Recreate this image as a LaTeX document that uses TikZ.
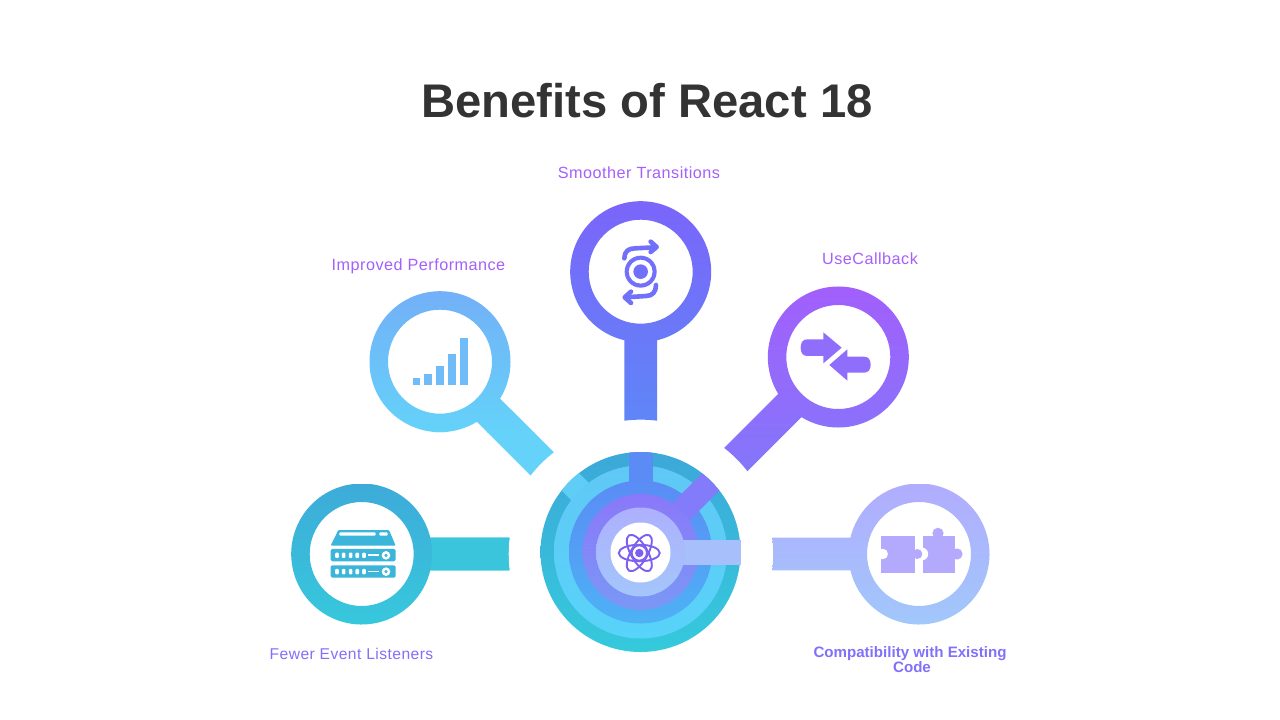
\documentclass[tikz,border=0pt]{standalone}
\usepackage{fontspec}
\setmainfont{Liberation Sans}
\newfontfamily\lblfont[LetterSpace=3]{Liberation Sans}
\definecolor{titlec}{HTML}{333333}
\definecolor{lblA}{HTML}{A560FB}
\definecolor{lblB}{HTML}{8270FB}
\definecolor{syncc}{HTML}{7070FA}
\definecolor{swapc}{HTML}{8F6EFB}
\definecolor{barsc}{HTML}{6FBCF8}
\definecolor{servc}{HTML}{3CB5DA}
\definecolor{puzc}{HTML}{B3A9FD}
\definecolor{atomc}{HTML}{7F5FF0}
\definecolor{lefbar}{HTML}{3AC5DC}
\tikzset{
  lbl/.style={inner sep=0pt,anchor=base,font=\lblfont\fontsize{16.2}{18}\selectfont},
  syncline/.style={draw=syncc,line width=4.6pt,line cap=round,line join=round},
}
% cx cy angle barend ytop ybot topcolor botcolor (HTML)
\newcommand{\lens}[8]{%
  \definecolor{lenstop}{HTML}{#7}\definecolor{lensbot}{HTML}{#8}%
  \begin{scope}[even odd rule]
    \clip[shift={(#1,#2)},rotate=#3]
      (13.45:70.5pt) arc[start angle=13.45,end angle=346.55,radius=70.5pt]
      -- (#4pt,-16.4pt) arc[start angle=187.2,end angle=172.8,radius=131pt]
      -- cycle (0pt,0pt) circle[radius=52pt];
    \shade[top color=lenstop,bottom color=lensbot] (200,#5) rectangle (1100,#6);
    \fill[lensbot] (200,#6) rectangle (1100,700);
  \end{scope}}
% disc of the hub: radius, top colour, bottom colour
\newcommand{\hubdisc}[3]{%
  \definecolor{disctop}{HTML}{#2}\definecolor{discbot}{HTML}{#3}%
  \shade[top color=disctop,bottom color=discbot] (640.5,552) circle[radius=#1pt];}
\begin{document}
\begin{tikzpicture}[x=1pt,y=-1pt]
\useasboundingbox (0,0) rectangle (1280,720);
\fill[white] (0,0) rectangle (1280,720);

\node[inner sep=0pt,anchor=base,text=titlec,font=\fontsize{47.2}{52}\selectfont\bfseries] (title) at (647,117) {Benefits of React 18};

\node[lbl,text=lblA] (l1) at (639,178) {Smoother Transitions};
\node[lbl,text=lblA] (l2) at (418.5,270) {Improved Performance};
\node[lbl,text=lblA] (l3) at (870,264) {UseCallback};
\node[lbl,text=lblB,font=\lblfont\fontsize{15.6}{18}\selectfont] (l4) at (351.5,659) {Fewer Event Listeners};
\node[inner sep=0pt,text=lblB,align=center,font=\fontsize{15.1}{15}\selectfont\bfseries] (l5) at (910,660) {Compatibility with Existing\\\hspace*{4pt}Code};

% magnifiers
\lens{640.7}{271.7}{-90}{149}{201}{422}{7B65FA}{5F86F7}
\lens{838.3}{357}{225}{145}{286}{473}{A25FFC}{8377FA}
\lens{440}{361.7}{-45}{144.5}{291}{432}{73B0F8}{64D2F9}
\lens{361.7}{554}{0}{147.8}{484}{625}{3DABD9}{37C8DC}
\lens{919}{554}{180}{146.8}{484}{625}{B1ACFE}{A1C8FB}
\fill[lefbar,shift={(361.7,554)}]
  (13.45:70.5pt) arc[start angle=13.45,end angle=-13.45,radius=70.5pt]
  -- (147.8pt,-16.4pt) arc[start angle=187.2,end angle=172.8,radius=131pt] -- cycle;

% hub
\hubdisc{100}{3CA8D9}{35CADC}
\begin{scope}
  \clip (640.5,552) circle[radius=100pt];
  \fill[color={rgb,255:red,96;green,205;blue,247},shift={(640.5,552)},rotate=135] (0pt,-12.2pt) rectangle (110pt,12.2pt);
\end{scope}
\hubdisc{86.5}{60C8F6}{58D3F9}
\begin{scope}
  \clip (640.5,552) circle[radius=100pt];
  \fill[color={rgb,255:red,91;green,140;blue,245}] (628.7,450) rectangle (653.3,552);
\end{scope}
\hubdisc{71.5}{5A8CF5}{4DB2F5}
\begin{scope}
  \clip (640.5,552) circle[radius=100pt];
  \fill[color={rgb,255:red,130;green,124;blue,250},shift={(640.5,552)},rotate=45] (0pt,-12.2pt) rectangle (110pt,12.2pt);
\end{scope}
\hubdisc{58}{8A78FA}{7A98F5}
\fill[color={rgb,255:red,167;green,192;blue,251}] (640.5,540) rectangle (740.5,565);
\hubdisc{44.5}{AEB0FD}{A3C6FB}
\fill[white] (640.5,552.5) circle[radius=30pt];

% atom icon
\begin{scope}[shift={(639.3,553)}]
  \foreach \r in {0,60,-60}
    \draw[atomc,line width=1.9pt,rotate=\r] (0pt,0pt) circle[x radius=20.5pt,y radius=8.3pt];
  \draw[atomc,line width=1.6pt] (0pt,0pt) circle[radius=7.5pt];
  \fill[atomc] (0pt,0pt) circle[radius=4.2pt];
\end{scope}

% sync icon
\begin{scope}[shift={(560,190)},x=0.3333pt,y=-0.3333pt]
  \fill[syncc,even odd rule] (242,245) circle[radius=16pt] (242,245) circle[radius=12pt];
  \fill[syncc] (242,245) circle[radius=7.3pt];
  \draw[syncline] (193,205) .. controls (193,185) and (205,175) .. (225,175) -- (285,172);
  \draw[syncline] (272,155) -- (290,171) -- (272,186);
  \draw[syncline] (288,285) .. controls (288,305) and (278,318) .. (258,318) -- (197,322);
  \draw[syncline] (213,305) -- (194,322) -- (213,339);
\end{scope}

% swap icon
\begin{scope}[shift={(760,280)},x=0.3333pt,y=-0.3333pt]
  \fill[swapc] (190,157) -- (245,203) -- (190,250) -- (190,228) -- (142,228)
     .. controls (128,228) and (122,218) .. (122,203)
     .. controls (122,188) and (128,178) .. (142,178) -- (190,178) -- cycle;
  \fill[swapc] (262,208) -- (208,255) -- (262,302) -- (262,278) -- (312,278)
     .. controls (326,278) and (332,268) .. (332,254)
     .. controls (332,240) and (326,230) .. (312,230) -- (262,230) -- cycle;
\end{scope}

% signal bars icon
\begin{scope}[shift={(360,285)},x=0.3333pt,y=-0.3333pt]
  \fill[barsc] (158,278) rectangle (181,300);
  \fill[barsc] (193,266) rectangle (216,300);
  \fill[barsc] (229,243) rectangle (252,300);
  \fill[barsc] (264,207) rectangle (288,300);
  \fill[barsc] (300,160) rectangle (323,300);
\end{scope}

% server icon
\begin{scope}[shift={(285,480)},x=0.3333pt,y=-0.3333pt]
  \fill[servc,rounded corners=1pt] (160,150) -- (312,150) -- (332,197) -- (137,197) -- cycle;
  \fill[white,rounded corners=1pt] (163,157) rectangle (272,167);
  \fill[white,rounded corners=1pt] (283,157) rectangle (308,167);
  \foreach \yc in {226,275} {
    \fill[servc,rounded corners=1.5pt] (137,\yc-19) rectangle (332,\yc+18);
    \foreach \xc in {156,176,197,217,237}
      \fill[white,rounded corners=1pt] (\xc-5.5,\yc-8) rectangle (\xc+5.5,\yc+8);
    \fill[white] (250,\yc-2.5) rectangle (282,\yc+2.5);
    \fill[white] (303,\yc) circle[radius=4.3pt];
    \fill[servc] (303,\yc) circle[radius=1.7pt];
  }
\end{scope}

% puzzle icon
\begin{scope}[shift={(845,480)},x=0.3333pt,y=-0.3333pt]
  \fill[puzc] (107,167) rectangle (210,280);
  \fill[white] (113,222) circle[radius=5.3pt];
  \fill[puzc] (233,167) rectangle (331,280);
  \fill[puzc] (279,160) circle[radius=5.6pt];
  \fill[puzc] (336,222) circle[radius=5.6pt];
  \fill[white] (230,222) circle[radius=6.5pt];
  \fill[puzc] (217,222) circle[radius=5pt];
\end{scope}
\end{tikzpicture}
\end{document}
